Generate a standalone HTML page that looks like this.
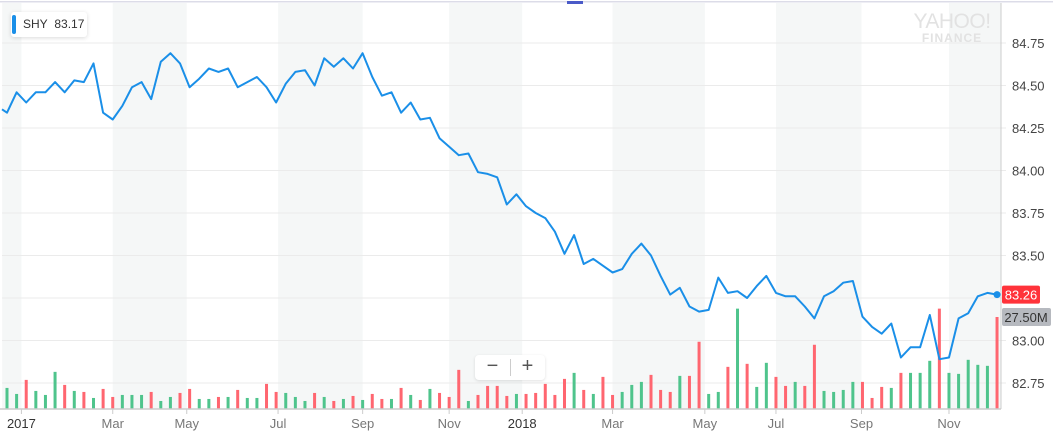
<!DOCTYPE html>
<html><head><meta charset="utf-8">
<style>
html,body{margin:0;padding:0;background:#fff;}
body{width:1053px;height:435px;overflow:hidden;position:relative;font-family:"Liberation Sans",sans-serif;}
svg{position:absolute;left:0;top:0;}
.legend{position:absolute;left:11px;top:12px;height:25px;width:76px;background:#fff;border-radius:3px;box-shadow:0 1px 4px rgba(0,0,0,0.15);font-size:12px;color:#333;line-height:25px;}
.legend .bar{position:absolute;left:1px;top:3px;width:4px;height:19px;background:#1a8fe8;border-radius:2px;}
.legend span{position:absolute;left:12px;}
.zoomctl{position:absolute;left:475px;top:355px;width:70px;height:25px;background:#fff;border-radius:4px;box-shadow:0 1px 3px rgba(0,0,0,0.12);font-size:20px;color:#555;}
.zoomctl div{position:absolute;top:-1px;width:35px;text-align:center;line-height:25px;}
.zoomctl .sep{position:absolute;left:35px;top:4px;width:1px;height:17px;background:#ccc;}
</style></head>
<body>
<svg id="chart" width="1053" height="435"></svg>
<div class="legend"><div class="bar"></div><span>SHY&nbsp; 83.17</span></div>
<div class="zoomctl">
<div style="left:0">−</div>
<div class="sep"></div>
<div style="left:35px">+</div>
</div>
<script>
const prices=[84.34,84.46,84.40,84.46,84.46,84.52,84.46,84.53,84.52,84.63,84.34,84.30,84.38,84.49,84.52,84.42,84.64,84.69,84.63,84.49,84.54,84.60,84.58,84.60,84.49,84.52,84.55,84.49,84.40,84.51,84.58,84.59,84.50,84.66,84.61,84.66,84.60,84.69,84.55,84.44,84.46,84.34,84.40,84.30,84.31,84.19,84.14,84.09,84.10,83.99,83.98,83.96,
83.80,83.86,83.79,83.75,83.72,83.64,83.51,83.62,83.45,83.48,83.44,83.40,83.42,83.51,83.57,83.50,83.38,83.27,83.31,83.20,83.17,83.18,83.37,83.28,83.29,83.25,83.32,83.38,83.28,83.26,83.26,83.20,83.13,83.26,83.29,83.34,83.35,83.14,83.08,83.04,83.10,82.90,82.96,82.96,83.15,82.89,82.90,83.13,83.16,83.26,83.28,83.27];
const volumes=[6.3,4.5,8.7,5.4,4.2,11.1,7.2,5.4,5.1,3.3,6.0,3.6,4.2,4.2,4.2,5.1,2.4,3.6,4.8,6.0,3.0,3.0,3.6,3.6,5.7,3.3,3.3,7.5,
5.1,4.8,3.6,2.4,4.8,3.6,2.4,3.0,3.9,2.7,4.5,3.0,3.0,6.3,4.2,2.7,6.0,4.8,3.6,11.7,2.4,4.2,6.9,6.9,3.9,4.5,4.5,4.8,
7.5,4.2,9.0,10.8,5.7,4.5,9.6,4.2,5.1,7.2,8.1,10.2,5.7,5.1,9.9,9.9,20.1,4.5,5.1,12.6,30.0,13.5,6.6,13.8,9.6,6.9,8.1,6.9,19.2,5.4,5.1,5.7,8.1,8.1,3.3,6.6,6.3,10.8,10.8,10.8,14.4,30.0,10.8,10.5,14.7,13.2,12.9,27.5];
const volDir="ggrgggrgrgrrgggrggrrggrgrggr"+"rgggrgrgrgrrgrgrgrrrgrrrrgr"+"r"+"rrrgrgrrgggrrrgrrggrgrggrrgrrggggrrrgrgggrgggggr";
const yTicks=[84.75,84.50,84.25,84.00,83.75,83.50,83.25,83.00,82.75];
const xTickLabels=["2017","Mar","May","Jul","Sep","Nov","2018","Mar","May","Jul","Sep","Nov"];
const xTickWeeks=[1.5,11,18.7,28.2,37,46,53.6,63,72.6,80,88.9,98];
const shadeWeeks=[[-0.5,1.5],[11,18.7],[28.2,37],[46,53.6],[63,72.6],[80,88.9],[98,103.5]];
const lastPrice="83.26", lastVol="27.50M";

const NS="http://www.w3.org/2000/svg";
const svg=document.getElementById('chart');
function mk(t,a,p){const e=document.createElementNS(NS,t);for(const k in a)e.setAttribute(k,a[k]);(p||svg).appendChild(e);return e;}
const X0=7,STEP=9.612,PL=2,PR=1001,AXB=409;
const xs=i=>X0+i*STEP;
const yp=v=>43+(84.75-v)*170;
const VK=92/27.5;
const yv=v=>AXB-v*VK;
const li=prices.length-1;
const py=yp(prices[li]);
const vy=yv(volumes[li]);

let e=mk('rect',{x:0,y:1,width:1053,height:1.5,fill:'#dcdce8'});


e=mk('rect',{x:567,y:1,width:16,height:3,fill:'#4a5ac8'});


shadeWeeks.forEach(s=>{
  const a=Math.max(PL,xs(s[0])),b=Math.min(PR,xs(s[1]));
  const r=mk('rect',{x:a,y:3,width:b-a,height:AXB-3,fill:'#f5f7f7'});
  
  
});
e=mk('text',{x:952,y:28,'text-anchor':'middle','font-size':'21','fill':'#e2e2e2','font-family':'Liberation Sans, sans-serif','letter-spacing':'-0.5'});
e.textContent='YAHOO!';


e=mk('text',{x:952,y:42,'text-anchor':'middle','font-size':'12','fill':'#e2e2e2','font-weight':'bold','font-family':'Liberation Sans, sans-serif','letter-spacing':'1'});
e.textContent='FINANCE';


yTicks.forEach(v=>{
  const y=yp(v);
  const g=mk('line',{x1:PL,x2:PR+5,y1:y,y2:y,stroke:'#ebebeb','stroke-width':1});
  
  
  if(Math.abs(y-py)<16||Math.abs(y-vy)<16) return;
  const t=mk('text',{x:1012,y:y+5,'font-size':'13','fill':'#444'});
  t.textContent=v.toFixed(2);
  
  
});
volumes.forEach((v,i)=>{
  const y=yv(v);
  const b=mk('rect',{x:xs(i)-1.5,y:y,width:3,height:AXB-y,fill:volDir[i]==='g'?'#4fc48c':'#ff6670'});
  
  
});
e=mk('line',{x1:PR,x2:PR,y1:3,y2:AXB,stroke:'#ccc','stroke-width':1});


e=mk('line',{x1:0,x2:PR,y1:AXB,y2:AXB,stroke:'#ccc','stroke-width':1.5});


xTickLabels.forEach((l,i)=>{
  const x=xs(xTickWeeks[i]);
  const tk=mk('line',{x1:x,x2:x,y1:AXB,y2:AXB+5,stroke:'#ccc'});
  
  
  const t=mk('text',{x:x,y:428,'text-anchor':'middle','font-size':'13','fill':/^\d/.test(l)?'#333':'#777'});
  t.textContent=l;
  
  
});
let d='M'+PL+','+yp(prices[0]+0.02);
prices.forEach((v,i)=>{d+=' L'+xs(i).toFixed(1)+','+yp(v).toFixed(1);});
e=mk('path',{d:d,fill:'none',stroke:'#1a8fe8','stroke-width':2,'stroke-linejoin':'round'});


e=mk('circle',{cx:xs(li),cy:py,r:3.5,fill:'#1a8fe8'});


e=mk('rect',{x:1002,y:py-9,width:38,height:18,rx:2,fill:'#ff333a'});


e=mk('text',{x:1021,y:py+5,'text-anchor':'middle','font-size':'13','fill':'#fff'});
e.textContent=lastPrice;


e=mk('rect',{x:1002,y:vy-9,width:49,height:18,rx:2,fill:'#b6b9bf'});


e=mk('text',{x:1026,y:vy+5,'text-anchor':'middle','font-size':'13','fill':'#333'});
e.textContent=lastVol;


</script>
</body></html>
